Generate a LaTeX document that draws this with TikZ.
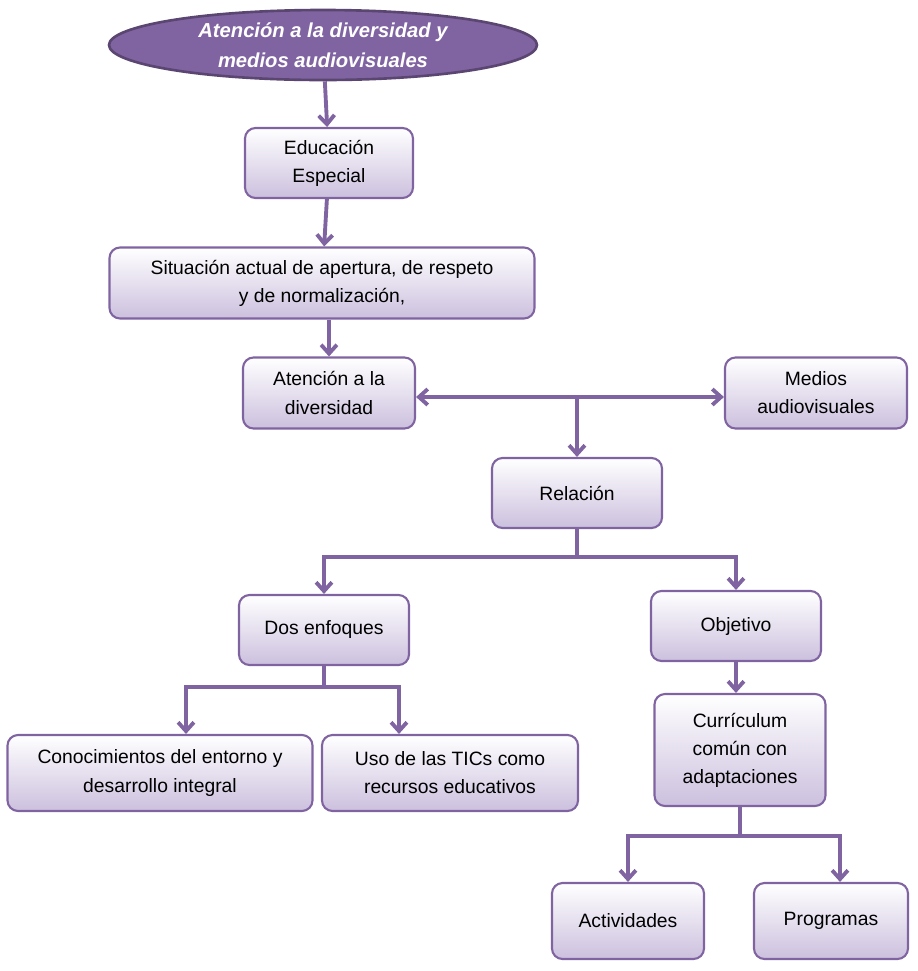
\documentclass[tikz,border=0pt]{standalone}
\usepackage{fontspec}
\setmainfont{Liberation Sans}
\usetikzlibrary{positioning,calc,arrows.meta,shapes.geometric}
\definecolor{lila}{RGB}{128,100,162}
\definecolor{lilaclaro}{RGB}{204,192,222}
\tikzset{
  caja/.style={align=center,draw=lila,line width=1.2pt,rounded corners=6pt,top color=white,bottom color=lilaclaro,font=\fontsize{11}{16}\selectfont},
  flecha/.style={draw=lila,line width=2.2pt,-{Straight Barb[length=5pt,width=9pt]}},
  linea/.style={draw=lila,line width=2.2pt}
}
\begin{document}
\begin{tikzpicture}[x=0.02cm,y=-0.02cm]
    \useasboundingbox (0,0) rectangle (917,971);
    \draw
        node[ellipse,draw=lila!70!black,line width=1.5pt,fill=lila,text=white,align=center,minimum width=428*0.02cm,minimum height=70*0.02cm,inner sep=0pt,font=\fontsize{11.5}{17}\selectfont\bfseries\itshape] (titulo) at (323,45) {Atención a la diversidad y\\medios audiovisuales}

        node[caja,minimum width=168*0.02cm,minimum height=70*0.02cm] (edu) at (329,163) {Educación\\Especial}
        node[caja,minimum width=425*0.02cm,minimum height=71*0.02cm] (sit) at (322,283) {Situación actual de apertura, de respeto\\y de normalización,}
        node[caja,minimum width=172*0.02cm,minimum height=71*0.02cm] (aten) at (329,393) {Atención a la\\diversidad}
        node[caja,minimum width=182*0.02cm,minimum height=71*0.02cm] (medios) at (816,393) {Medios\\audiovisuales}
        node[caja,minimum width=170*0.02cm,minimum height=70*0.02cm] (rel) at (577,493) {Relación}
        node[caja,minimum width=170*0.02cm,minimum height=70*0.02cm] (dos) at (324,630) {Dos enfoques}
        node[caja,minimum width=170*0.02cm,minimum height=70*0.02cm] (obj) at (736,626) {Objetivo}
        node[caja,minimum width=305*0.02cm,minimum height=76*0.02cm] (cono) at (160,773) {Conocimientos del entorno y\\desarrollo integral}
        node[caja,minimum width=256*0.02cm,minimum height=76*0.02cm] (uso) at (450,773) {Uso de las TICs como\\recursos educativos}
        node[caja,minimum width=171*0.02cm,minimum height=112*0.02cm] (curri) at (740,750) {Currículum\\común con\\adaptaciones}
        node[caja,minimum width=152*0.02cm,minimum height=76*0.02cm] (act) at (628,921) {Actividades}
        node[caja,minimum width=154*0.02cm,minimum height=76*0.02cm] (prog) at (831,921) {Programas}
    ;
    \coordinate (mid) at (577,397);
    \coordinate (r1) at (577,557);
    \coordinate (d1) at (324,687);
    \coordinate (c1) at (740,836);

    \draw[flecha] (titulo)-- (edu);
    \draw[flecha] (edu)-- (sit);
    \draw[flecha] (sit.south -| aten)-- (aten);
    \draw[flecha,{Straight Barb[length=5pt,width=9pt]}-{Straight Barb[length=5pt,width=9pt]}] (aten.east |- mid)-- (medios.west |- mid);
    \draw[flecha] (mid)-- (rel);

    \draw[linea] (rel)-- (r1);
    \draw[flecha] (r1)-| (dos);
    \draw[flecha] (r1)-| (obj);
    \draw[linea] (dos)-- (d1);
    \draw[flecha] (d1)-| ([xshift=26*0.02cm]cono.north);
    \draw[flecha] (d1)-| ([xshift=-51*0.02cm]uso.north);
    \draw[flecha] (obj)-- (curri.north -| obj);
    \draw[linea] (curri)-- (c1);
    \draw[flecha] (c1)-| (act);
    \draw[flecha] (c1)-| ([xshift=9*0.02cm]prog.north);
\end{tikzpicture}
\end{document}
